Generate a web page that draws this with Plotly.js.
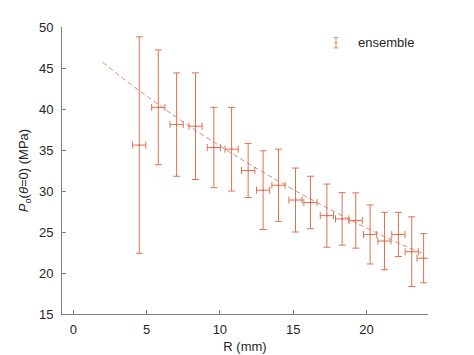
<!DOCTYPE html>
<html>
<head>
<meta charset="utf-8">
<script src="https://cdn.plot.ly/plotly-3.0.1.min.js"></script>
<style>html,body{margin:0;padding:0;background:#fff;}#chart{width:474px;height:355px;}</style>
</head>
<body>
<div id="chart"></div>
<script>
// Data
const radius = [4.5, 5.8, 7.05, 8.34, 9.59, 10.8, 11.93, 12.95, 14.0, 15.16, 16.18, 17.3, 18.34, 19.27, 20.25, 21.23, 22.18, 23.09, 23.9];
const pressure = [35.6, 40.2, 38.1, 37.9, 35.3, 35.1, 32.5, 30.1, 30.7, 28.9, 28.6, 27.0, 26.6, 26.4, 24.7, 23.9, 24.7, 22.6, 21.8];
const pressureErr = [13.2, 7.0, 6.3, 6.5, 4.9, 5.1, 3.3, 4.8, 4.4, 3.9, 3.2, 3.85, 3.2, 3.37, 3.6, 3.5, 2.7, 4.25, 3.0];
const radiusErr = [0.45, 0.45, 0.45, 0.45, 0.45, 0.45, 0.45, 0.45, 0.45, 0.45, 0.45, 0.45, 0.45, 0.45, 0.45, 0.45, 0.45, 0.45, 0.45];
const fitR = [2, 4, 6, 8, 10, 12, 14, 16, 18, 20, 22, 23.8];
const fitP = [45.7, 42.9, 40.3, 37.8, 35.5, 33.3, 31.2, 29.2, 27.3, 25.5, 23.8, 22.4];
const legendName = 'ensemble';

const barColor = 'rgb(224,112,80)';
const iconColor = 'rgb(225,140,110)';
const font = 'Liberation Sans, Arial, sans-serif';
const textColor = '#262626';

const traces = [
  {
    x: fitR, y: fitP, mode: 'lines', type: 'scatter', showlegend: false,
    line: {color: 'rgba(205,120,95,0.85)', width: 1, dash: '5px,3px', shape: 'spline'},
    hoverinfo: 'skip'
  },
  {
    x: radius, y: pressure, mode: 'markers', type: 'scatter', name: legendName, showlegend: false,
    marker: {color: barColor, size: 2},
    error_y: {type: 'data', array: pressureErr, visible: true, color: barColor, thickness: 1, width: 3.5},
    error_x: {type: 'data', array: radiusErr, visible: true, color: barColor, thickness: 1, width: 3.5}
  }
];

const axisCommon = {
  showgrid: false, zeroline: false, showline: true, linecolor: '#808080', linewidth: 1,
  ticks: 'inside', ticklen: 4, tickcolor: '#808080', tickwidth: 1,
  tickfont: {family: font, size: 13, color: textColor}, mirror: false
};

// legend drawn by hand: small vertical error-bar icon + label (paper coords)
const ix = 0.7486, iy0 = 0.927, iy1 = 0.963, cap = 0.0072;
const iconLine = {type: 'line', xref: 'paper', yref: 'paper', line: {color: iconColor, width: 1}};
const shapes = [
  Object.assign({}, iconLine, {x0: ix, x1: ix, y0: iy0, y1: iy1}),
  Object.assign({}, iconLine, {x0: ix - cap, x1: ix + cap, y0: iy0, y1: iy0}),
  Object.assign({}, iconLine, {x0: ix - cap, x1: ix + cap, y0: iy1, y1: iy1}),
  Object.assign({}, iconLine, {x0: ix - 0.004, x1: ix + 0.004, y0: (iy0 + iy1) / 2, y1: (iy0 + iy1) / 2})
];

const layout = {
  width: 474, height: 355,
  margin: {l: 62, r: 46, t: 27, b: 41, pad: 0},
  paper_bgcolor: '#fff', plot_bgcolor: '#fff',
  showlegend: false,
  shapes: shapes,
  annotations: [{
    text: legendName, xref: 'paper', yref: 'paper', x: 0.803, y: 0.945,
    xanchor: 'left', yanchor: 'middle', showarrow: false,
    font: {family: font, size: 13, color: textColor}
  }],
  xaxis: Object.assign({}, axisCommon, {
    range: [-0.77, 24.2], tickvals: [0, 5, 10, 15, 20], ticklabelstandoff: 3,
    title: {text: 'R (mm)', font: {family: font, size: 13, color: textColor}, standoff: 6}
  }),
  yaxis: Object.assign({}, axisCommon, {
    range: [15, 50], tickvals: [15, 20, 25, 30, 35, 40, 45, 50], ticklabelstandoff: 5,
    title: {text: '<i>P</i><sub>o</sub>(<i>θ</i>=0) (MPa)', font: {family: font, size: 13, color: textColor}, standoff: 7}
  })
};

Plotly.newPlot('chart', traces, layout, {displayModeBar: false, staticPlot: true});
</script>
</body>
</html>
